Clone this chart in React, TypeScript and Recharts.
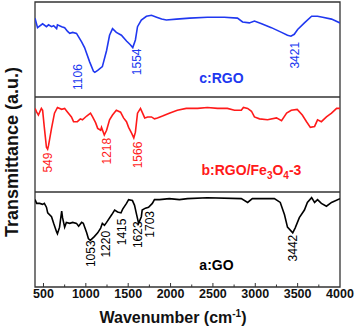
import React from "react";
import {
  LineChart,
  Line,
  XAxis,
  YAxis,
  ReferenceArea,
  ReferenceLine,
  ReferenceDot,
} from "recharts";

// each panel uses its own 0..100 transmittance scale (100 = top of panel)
const rgo: [number, number][] = [
  [400, 83], [430, 73], [490, 77], [535, 74], [560, 76], [595, 74], [620, 75],
  [655, 72], [665, 76], [715, 74], [750, 73], [785, 69], [810, 67], [845, 68],
  [890, 67], [950, 58], [985, 52], [1045, 37], [1090, 27], [1106, 26], [1140, 28],
  [1195, 32], [1245, 49], [1280, 65], [1315, 72], [1360, 68], [1420, 65],
  [1480, 59], [1525, 55], [1554, 52], [1585, 60], [1610, 74], [1655, 81],
  [1715, 85], [1775, 86], [1835, 84], [1895, 82], [1950, 81], [2070, 82],
  [2225, 83], [2435, 84], [2635, 84], [2790, 83], [2850, 79], [2930, 78],
  [2990, 80], [3075, 77], [3190, 73], [3310, 68], [3380, 65], [3421, 64],
  [3460, 66], [3500, 71], [3580, 78], [3665, 85], [3735, 85], [3795, 84],
  [3900, 82], [4000, 78],
];

const rgoFe: [number, number][] = [
  [400, 88], [420, 84], [440, 81], [475, 88], [490, 86], [510, 68], [535, 47],
  [549, 45], [560, 49], [595, 67], [630, 83], [665, 89], [715, 87], [750, 88],
  [785, 84], [830, 79], [855, 74], [900, 74], [935, 77], [960, 76], [1010, 80],
  [1055, 83], [1080, 79], [1115, 73], [1140, 67], [1175, 65], [1185, 68],
  [1218, 60], [1245, 65], [1280, 76], [1315, 81], [1360, 86], [1410, 84],
  [1445, 78], [1480, 74], [1505, 68], [1540, 62], [1566, 57], [1585, 63],
  [1610, 83], [1645, 88], [1670, 83], [1695, 78], [1730, 79], [1775, 79],
  [1810, 77], [1845, 78], [1905, 80], [1985, 83], [2080, 86], [2185, 88],
  [2320, 88], [2435, 89], [2555, 88], [2670, 88], [2755, 86], [2835, 86],
  [2860, 89], [2910, 88], [2955, 85], [2990, 79], [3050, 77], [3145, 76],
  [3250, 78], [3310, 75], [3370, 83], [3425, 86], [3495, 87], [3555, 81],
  [3605, 74], [3650, 68], [3700, 69], [3735, 76], [3780, 74], [3840, 79],
  [3900, 83], [3960, 88], [4000, 88],
];

const go: [number, number][] = [
  [400, 92], [420, 88], [455, 88], [490, 87], [510, 88], [535, 84], [550, 78],
  [595, 74], [620, 67], [655, 58], [665, 56], [690, 63], [715, 80], [725, 73],
  [750, 63], [770, 68], [810, 67], [845, 68], [890, 67], [915, 64], [950, 68],
  [970, 67], [1010, 57], [1030, 51], [1053, 49], [1100, 53], [1140, 57],
  [1175, 62], [1195, 67], [1220, 65], [1245, 68], [1305, 76], [1340, 81],
  [1375, 79], [1415, 78], [1435, 82], [1480, 88], [1505, 92], [1550, 91],
  [1575, 86], [1600, 76], [1623, 67], [1655, 74], [1665, 81], [1703, 83],
  [1740, 84], [1785, 88], [1810, 92], [1870, 92], [1985, 93], [2105, 92],
  [2200, 93], [2435, 94], [2835, 93], [2910, 89], [2965, 93], [3225, 93],
  [3295, 89], [3345, 76], [3380, 63], [3442, 57], [3470, 62], [3520, 73],
  [3580, 81], [3615, 89], [3665, 94], [3700, 89], [3735, 92], [3780, 88],
  [3840, 85], [3900, 89], [4000, 93],
];

const xTicks = [
  500, 750, 1000, 1250, 1500, 1750, 2000, 2250, 2500, 2750, 3000, 3250, 3500,
  3750, 4000,
];

// peak annotations: [wavenumber position, panel value, text]
const rgoPeaks: [number, number, string][] = [
  [902, 21, "1106"],
  [1598, 37, "1554"],
  [3462, 44, "3421"],
];
const rgoFePeaks: [number, number, string][] = [
  [548, 31, "549"],
  [1244, 43, "1218"],
  [1610, 39, "1566"],
];
const goPeaks: [number, number, string][] = [
  [1055, 35, "1053"],
  [1232, 45, "1220"],
  [1421, 58, "1415"],
  [1610, 55, "1623"],
  [1751, 66, "1703"],
  [3439, 41, "3442"],
];

const BLUE = "#2038f0";
const RED = "#ff1a1a";
const BLACK = "#000000";
const FONT = "'Liberation Sans', Arial, sans-serif";

const toRows = (pts: [number, number][]) => pts.map(([wn, t]) => ({ wn, t }));

const WaveTick = (props: any) => {
  const { x, y, payload } = props;
  const v = payload.value;
  const major = v % 500 === 0;
  return (
    <g>
      {v < 4000 && (
        <line
          x1={x}
          x2={x}
          y1={y}
          y2={y - (major ? 4 : 2.5)}
          stroke="#333"
          strokeWidth={1}
        />
      )}
      {major && (
        <text
          x={x}
          y={y + 11}
          textAnchor="middle"
          fontFamily={FONT}
          fontWeight="bold"
          fontSize={12.5}
          fill="#111"
        >
          {v}
        </text>
      )}
    </g>
  );
};

const peakDots = (peaks: [number, number, string][], axis: string, color: string) =>
  peaks.map(([wn, t, text]) => (
    <ReferenceDot
      key={axis + text}
      yAxisId={axis}
      x={wn}
      y={t}
      r={0}
      fill="none"
      stroke="none"
      label={{
        value: text,
        angle: -90,
        position: "center",
        fill: color,
        fontSize: 12,
        fontFamily: FONT,
      }}
    />
  ));

const sampleLabel = (axis: string, wn: number, t: number, color: string, body: React.ReactNode) => (
  <ReferenceDot
    yAxisId={axis}
    x={wn}
    y={t}
    r={0}
    fill="none"
    stroke="none"
    label={{
      content: (p: any) => {
        const { x, y, width, height } = p.viewBox;
        return (
          <text
            x={x + width / 2}
            y={y + height / 2 + 5}
            textAnchor="middle"
            fontFamily={FONT}
            fontWeight="bold"
            fontSize={14}
            fill={color}
          >
            {body}
          </text>
        );
      },
    }}
  />
);

export default function App() {
  return (
    <div
      style={{
        position: "absolute",
        left: 0,
        top: 0,
        width: 355,
        height: 333,
        background: "#fff",
      }}
    >
      <LineChart
        width={355}
        height={333}
        margin={{ top: 2, right: 15, left: 35, bottom: 0 }}
      >
        <XAxis
          dataKey="wn"
          type="number"
          domain={[400, 4000]}
          ticks={xTicks}
          interval={0}
          axisLine={false}
          tickLine={false}
          tickSize={0}
          tickMargin={0}
          height={46}
          tick={<WaveTick />}
          allowDataOverflow
        />
        <YAxis yAxisId="c" hide width={0} domain={[-200, 100]} />
        <YAxis yAxisId="b" hide width={0} domain={[-100, 200]} />
        <YAxis yAxisId="a" hide width={0} domain={[0, 300]} />

        <ReferenceArea
          yAxisId="c"
          x1={400}
          x2={4000}
          y1={-200}
          y2={100}
          fill="none"
          stroke="#333"
          strokeWidth={1.3}
        />
        <ReferenceLine yAxisId="c" y={0} stroke="#333" strokeWidth={1.3} />
        <ReferenceLine yAxisId="c" y={-100} stroke="#333" strokeWidth={1.3} />

        <Line
          yAxisId="c"
          data={toRows(rgo)}
          dataKey="t"
          type="linear"
          stroke={BLUE}
          strokeWidth={1.6}
          dot={false}
          isAnimationActive={false}
        />
        <Line
          yAxisId="b"
          data={toRows(rgoFe)}
          dataKey="t"
          type="linear"
          stroke={RED}
          strokeWidth={1.6}
          dot={false}
          isAnimationActive={false}
        />
        <Line
          yAxisId="a"
          data={toRows(go)}
          dataKey="t"
          type="linear"
          stroke={BLACK}
          strokeWidth={1.6}
          dot={false}
          isAnimationActive={false}
        />

        {peakDots(rgoPeaks, "c", BLUE)}
        {peakDots(rgoFePeaks, "b", RED)}
        {peakDots(goPeaks, "a", BLACK)}

        {sampleLabel("c", 2601, 20, BLUE, "c:RGO")}
        {sampleLabel(
          "b",
          2955,
          23,
          RED,
          <>
            b:RGO/Fe
            <tspan dy={4} fontSize={10}>3</tspan>
            <tspan dy={-4}>O</tspan>
            <tspan dy={4} fontSize={10}>4</tspan>
            <tspan dy={-4}>-3</tspan>
          </>
        )}
        {sampleLabel("a", 2542, 23, BLACK, "a:GO")}
      </LineChart>

      <div
        style={{
          position: "absolute",
          left: 12 - 120,
          top: 152 - 12,
          width: 240,
          height: 24,
          lineHeight: "24px",
          textAlign: "center",
          transform: "rotate(-90deg)",
          fontFamily: FONT,
          fontWeight: "bold",
          fontSize: 18,
          color: "#111",
          whiteSpace: "nowrap",
        }}
      >
        Transmittance (a.u.)
      </div>
      <div
        style={{
          position: "absolute",
          left: 73,
          top: 308,
          width: 200,
          height: 20,
          lineHeight: "20px",
          textAlign: "center",
          fontFamily: FONT,
          fontWeight: "bold",
          fontSize: 16,
          color: "#111",
          whiteSpace: "nowrap",
        }}
      >
        Wavenumber (cm
        <span style={{ fontSize: 10, verticalAlign: "super", lineHeight: 0 }}>-1</span>)
      </div>
    </div>
  );
}
